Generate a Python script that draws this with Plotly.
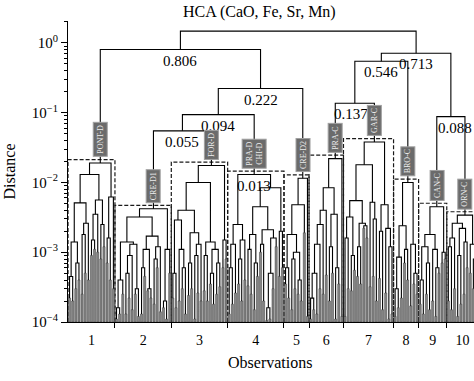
import math
import plotly.graph_objects as go

# ---------------- data ----------------
group_names = ["1", "2", "3", "4", "5", "6", "7", "8", "9", "10"]
group_codes = ["PONT-D", "CRE-D1", "FOR-D", "PRA-D<br>CHI-D", "CRE-D2",
               "PRA-C", "GAR-C", "BRO-C", "CAN-C", "ORN-C"]

# leaf (bar) heights and merge heights between neighbouring leaves, per group
leaf_g1 = [2.2e-4, 2.0e-4, 3.0e-4, 4.0e-4, 2.5e-4, 5e-4, 4e-4, 9e-4, 1.1e-3, 1.0e-3, 8e-4, 1.2e-3, 7e-4, 4e-4, 3e-4]
link_g1 = [4.5e-4, 1.4e-3, 7e-4, 5.1e-3, 1.8e-3, 2.6e-3, 1.3e-2, 1.5e-3, 3.5e-3, 5.6e-3, 2.5e-3, 1.9e-2, 1.6e-3, 6.2e-3]

leaf_g2 = [1.1e-4, 1.3e-4, 2.5e-4, 1.3e-4, 2.2e-4, 1.5e-4, 2.5e-4, 1.2e-4, 1.3e-4, 4.5e-4, 2.8e-4, 2.2e-4, 1.8e-4, 6e-4, 1.4e-4, 1.6e-4, 1.1e-4, 5e-4]
link_g2 = [1.6e-4, 4e-4, 1.4e-3, 5e-4, 9e-4, 1.3e-3, 3e-4, 3.2e-3, 6e-4, 1.1e-3, 3e-4, 1.7e-3, 8e-4, 1.2e-3, 4.2e-3, 2e-4, 1.1e-3]

leaf_g3 = [2.2e-4, 1.6e-4, 2.0e-4, 3.0e-4, 1.3e-4, 2.4e-4, 3.0e-4, 1.1e-4, 2.6e-4, 2.0e-4, 2.8e-4, 2.0e-4, 3.5e-4, 1.8e-4, 2.5e-4, 3.2e-4, 6e-4, 8e-4]
link_g3 = [5e-4, 2.9e-3, 1.1e-3, 6e-4, 4e-3, 7e-4, 1.9e-3, 9e-4, 1.3e-3, 1.0e-2, 9e-4, 1.4e-3, 5e-4, 1.1e-3, 7e-4, 1.75e-2, 1.5e-3]

leaf_g4 = [1.3e-4, 1.8e-4, 2.6e-4, 3.5e-4, 2.0e-4, 4e-4, 3.3e-4, 2.5e-4, 1.5e-4, 4.5e-4, 1.0e-3, 2e-4, 1.05e-4, 1.1e-4, 3.0e-4, 1.2e-3, 4.5e-4, 6e-4]
link_g4 = [6e-4, 1.3e-3, 2.5e-3, 8e-4, 1.5e-3, 1.3e-2, 1.1e-3, 1.8e-3, 7e-4, 4.5e-3, 1.3e-3, 2.1e-3, 1.6e-4, 5e-4, 1.6e-3, 8.4e-3, 2e-3]

leaf_g5 = [3.5e-4, 2.2e-4, 1.5e-4, 3e-4, 2.5e-4, 2e-4, 1.9e-3, 1.2e-4]
link_g5 = [6e-4, 1.8e-3, 8e-4, 1.0e-3, 4e-4, 4.8e-3, 1.15e-2]

leaf_g6 = [1.1e-4, 1.5e-4, 1.3e-4, 3e-4, 2.5e-4, 4.7e-4, 2e-4, 5e-4, 1.1e-4, 3.5e-4, 1.2e-4]
link_g6 = [2.2e-4, 5e-4, 1.3e-3, 2.5e-3, 4e-3, 8.4e-3, 1.2e-3, 3.5e-3, 6e-4, 2.2e-2]

leaf_g7 = [1.2e-4, 3e-4, 2.8e-4, 5.5e-4, 4.5e-4, 3.5e-4, 2.2e-3, 1.6e-3, 3.2e-4, 4.5e-4, 2e-4, 4.2e-4, 1.5e-4, 2.6e-4, 1.1e-4, 1.3e-4]
link_g7 = [1.6e-3, 3.2e-3, 9e-4, 5.5e-3, 1.2e-3, 2.6e-3, 2.4e-3, 1.8e-2, 5.2e-3, 3e-3, 3.8e-2, 2e-3, 4.8e-3, 2.2e-3, 1.2e-3]

leaf_g8 = [1.2e-4, 1.6e-4, 2.2e-4, 7e-4, 4e-4, 1.7e-4, 3.5e-4, 2.5e-4]
link_g8 = [3e-4, 8.5e-4, 2.4e-3, 1.1e-3, 1.0e-2, 1.3e-3, 5e-4]

leaf_g9 = [1.8e-4, 1.3e-4, 2.5e-4, 1.5e-4, 2e-4, 1.2e-4, 5e-4, 7e-4, 8e-4]
link_g9 = [4e-4, 1.2e-3, 7e-4, 1.8e-3, 1.1e-3, 6e-4, 4.5e-3, 1.0e-3]

leaf_g10 = [2e-4, 1.5e-4, 3e-4, 1.2e-4, 1.8e-4, 2.5e-4, 6e-4, 5e-4, 3e-4, 2e-4]
link_g10 = [1.2e-3, 1.6e-3, 2.6e-3, 9e-4, 2.2e-3, 1.4e-3, 3.4e-3, 1.3e-3, 8e-4]

# merges between neighbouring groups (1|2, 2|3, ... 9|10)
between_heights = [0.806, 0.055, 0.094, 0.222, 1.48, 0.137, 0.546, 0.713, 0.088]
between_labels = ["0.806", "0.055", "0.094", "0.222", "", "0.137", "0.546", "0.713", "0.088"]
group_root_labels = ["", "", "", "0.013", "", "", "", "", "", ""]

y_tick_vals = [1e-4, 1e-3, 1e-2, 1e-1, 1]
y_tick_text = ["10<sup>\u22124</sup>", "10<sup>\u22123</sup>", "10<sup>\u22122</sup>",
               "10<sup>\u22121</sup>", "10<sup>0</sup>"]

# label nudges in pixels (style only)
between_label_dx = [0, 0, 0, 0, 0, -4, 0, 0, 4]

# ---------------- assemble ----------------
leaf_groups = [leaf_g1, leaf_g2, leaf_g3, leaf_g4, leaf_g5, leaf_g6, leaf_g7, leaf_g8, leaf_g9, leaf_g10]
link_groups = [link_g1, link_g2, link_g3, link_g4, link_g5, link_g6, link_g7, link_g8, link_g9, link_g10]

bars, links, spans = [], [], []
for g in range(len(leaf_groups)):
    s = len(bars)
    bars += leaf_groups[g]
    links += link_groups[g]
    if g < len(between_heights):
        links.append(between_heights[g])
    spans.append((s, len(bars) - 1))

Y_MIN = 1e-4
seg_x, seg_y = [], []
node_pos = {}
node_by_link = {}


def build(lo, hi):
    if lo == hi:
        return float(lo), bars[lo]
    k = max(range(lo, hi), key=lambda i: links[i])
    lx, lh = build(lo, k)
    rx, rh = build(k + 1, hi)
    h = links[k]
    seg_x.extend([lx, lx, rx, rx, None])
    seg_y.extend([max(lh, Y_MIN), h, h, max(rh, Y_MIN), None])
    x = (lx + rx) / 2
    node_pos[(lo, hi)] = (x, h)
    node_by_link[k] = (x, h)
    return x, h


build(0, len(bars) - 1)

SERIF = "Liberation Serif, DejaVu Serif, serif"
fig = go.Figure()

# dashed group frames
dx, dy = [], []
for (s, e) in spans:
    rx, rh = node_pos[(s, e)]
    top = rh * 1.12
    dx += [s - 0.5, s - 0.5, e + 0.5, e + 0.5, None]
    dy += [Y_MIN, top, top, Y_MIN, None]
fig.add_trace(go.Scatter(x=dx, y=dy, mode="lines", hoverinfo="skip",
                         line=dict(color="#1a1a1a", width=1.2, dash="4px,2px")))

# leaf bars
BW = 0.34
bx, by = [], []
for i, b in enumerate(bars):
    bx += [i - BW, i - BW, i + BW, i + BW, i - BW, None]
    by += [Y_MIN, b, b, Y_MIN, Y_MIN, None]
fig.add_trace(go.Scatter(x=bx, y=by, mode="lines", fill="toself", fillcolor="#858585",
                         hoverinfo="skip", line=dict(color="#3a3a3a", width=0.5)))

# dendrogram links
fig.add_trace(go.Scatter(x=seg_x, y=seg_y, mode="lines", hoverinfo="skip",
                         line=dict(color="black", width=1.1)))

annotations = []
# merge height labels
for g, lab in enumerate(between_labels):
    if not lab:
        continue
    x, h = node_by_link[spans[g][1]]
    annotations.append(dict(x=x, y=math.log10(h), xref="x", yref="y", text=lab,
                            showarrow=False, yanchor="top", xanchor="center", yshift=-1,
                            xshift=between_label_dx[g],
                            font=dict(family=SERIF, size=15, color="black")))
for g, lab in enumerate(group_root_labels):
    if not lab:
        continue
    x, h = node_pos[spans[g]]
    annotations.append(dict(x=x, y=math.log10(h), xref="x", yref="y", text=lab,
                            showarrow=False, yanchor="top", xanchor="center", yshift=-1,
                            font=dict(family=SERIF, size=15, color="black")))

# group code tags
for g, code in enumerate(group_codes):
    x, h = node_pos[spans[g]]
    annotations.append(dict(x=x, y=math.log10(h), xref="x", yref="y", text=code,
                            showarrow=False, yanchor="bottom", xanchor="center", yshift=6,
                            textangle=-90, bgcolor="#6b6b6b", bordercolor="#a0a0a0",
                            borderwidth=1, borderpad=2,
                            font=dict(family=SERIF, size=8, color="#eeeeee")))

# titles
annotations.append(dict(x=0.472, y=1.03, xref="paper", yref="paper", text="HCA (CaO, Fe, Sr, Mn)",
                        showarrow=False, xanchor="center", yanchor="middle",
                        font=dict(family=SERIF, size=16, color="black")))
annotations.append(dict(x=0.4975, y=-0.133, xref="paper", yref="paper", text="Observations",
                        showarrow=False, xanchor="center", yanchor="middle",
                        font=dict(family=SERIF, size=16, color="black")))
annotations.append(dict(x=-0.143, y=0.5, xref="paper", yref="paper", text="Distance",
                        showarrow=False, xanchor="center", yanchor="middle", textangle=-90,
                        font=dict(family=SERIF, size=16, color="black")))

centers = [(s + e) / 2 for (s, e) in spans]
boundaries = [e + 0.5 for (s, e) in spans[:-1]]
minor_y = [k * 10.0 ** p for p in range(-4, 1) for k in range(2, 10) if k * 10.0 ** p <= 2.05]

fig.update_layout(width=474, height=381, margin=dict(l=68, r=0, t=21, b=59, autoexpand=False),
                  plot_bgcolor="white", paper_bgcolor="white", showlegend=False,
                  font=dict(family=SERIF, color="black"), annotations=annotations)
fig.update_xaxes(range=[-0.5, 129.2], showline=True, linecolor="black", linewidth=1.2,
                 automargin=False,
                 tickmode="array", tickvals=centers, ticktext=group_names,
                 ticks="outside", ticklen=5, tickcolor="rgba(0,0,0,0)",
                 tickfont=dict(family=SERIF, size=14, color="black"),
                 showgrid=False, zeroline=False,
                 minor=dict(tickmode="array", tickvals=boundaries, ticks="outside",
                            ticklen=5, tickcolor="black", tickwidth=1, showgrid=False))
fig.update_yaxes(type="log", range=[-4, 0.315], showline=True, linecolor="black", linewidth=1.2,
                 automargin=False,
                 tickmode="array", tickvals=y_tick_vals, ticktext=y_tick_text,
                 ticks="outside", ticklen=6, tickwidth=1.2, tickcolor="black",
                 tickfont=dict(family=SERIF, size=15, color="black"),
                 showgrid=False, zeroline=False,
                 minor=dict(tickmode="array", tickvals=minor_y, ticks="outside",
                            ticklen=3, tickcolor="black", tickwidth=1, showgrid=False))

fig.write_html("out.html", config={"displayModeBar": False},
               post_script="document.body.style.margin='0';document.body.style.padding='0';"
                           "document.body.style.overflow='hidden';")
